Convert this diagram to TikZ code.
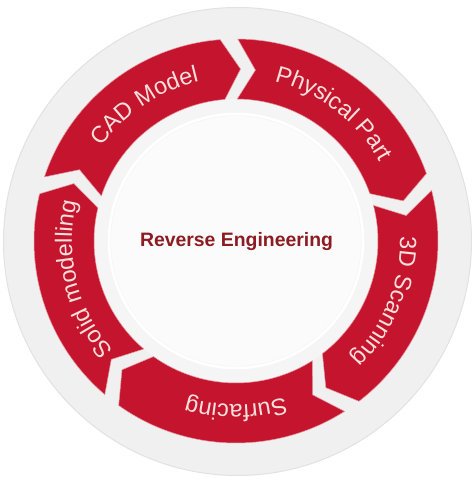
\documentclass[tikz,border=0pt]{standalone}
\usepackage{fontspec}
\setmainfont{Liberation Sans}
\usetikzlibrary{decorations.text}
\definecolor{segred}{RGB}{196,20,46}
\definecolor{segedge}{RGB}{232,150,160}
\definecolor{txtpink}{RGB}{250,224,220}
\definecolor{discgray}{RGB}{240,240,240}
\definecolor{discedge}{RGB}{226,226,226}
\definecolor{innergray}{RGB}{245,245,245}
\definecolor{titlered}{RGB}{140,28,34}
\tikzset{
  segshape/.style={fill=segred, draw=segedge, line width=0.5pt},
  arclabel/.style={decorate, decoration={text along path, text align=center,
      text={|\fontsize{23.5}{24}\selectfont\color{txtpink}|#1}}}
}
\begin{document}
\begin{tikzpicture}[x=1pt,y=1pt]
\useasboundingbox (0,0) rectangle (474,482);
\fill[white] (0,0) rectangle (474,482);
\fill[discgray, draw=discedge, line width=1pt] (237.5,240.5) circle[radius=234pt];
\begin{scope}[shift={(236pt,241pt)}]
  \fill[innergray] (0,0) circle[radius=142pt];
  \draw[white, line width=2.5pt] (0,0) circle[radius=127pt];
  \fill[white!60!innergray] (0,0) circle[radius=125pt];
  % ring segments (chevrons), clockwise
  \foreach \a/\b in {164/92, 92/17, 17/-55, -55/-128, -128/-196} {
    \pgfmathsetmacro\s{\a-2.5}
    \pgfmathsetmacro\e{\b+2.5}
    \pgfmathsetmacro\et{\e-6}
    \pgfmathsetmacro\st{\s-6}
    \path[segshape] (\s:202pt) arc[start angle=\s, end angle=\e, radius=202pt]
      -- (\et:172pt) -- (\e:142pt)
      arc[start angle=\e, end angle=\s, radius=142pt]
      -- (\st:172pt) -- cycle;
  }
  % labels along the ring
  \path[arclabel={CAD Model}] (164:164pt) arc[start angle=164, end angle=84, radius=164pt];
  \path[arclabel={Physical Part}] (92.5:164pt) arc[start angle=92.5, end angle=12.5, radius=164pt];
  \path[arclabel={3D Scanning}] (18:164pt) arc[start angle=18, end angle=-62, radius=164pt];
  \path[arclabel={Surfacing}] (-50:164pt) arc[start angle=-50, end angle=-130, radius=164pt];
  \path[arclabel={Solid modelling}] (234:164pt) arc[start angle=234, end angle=154, radius=164pt];
\end{scope}
\node[text=titlered] (title) at (236.5,240) {\fontsize{19.4}{20}\selectfont\bfseries Reverse Engineering};
\end{tikzpicture}
\end{document}
